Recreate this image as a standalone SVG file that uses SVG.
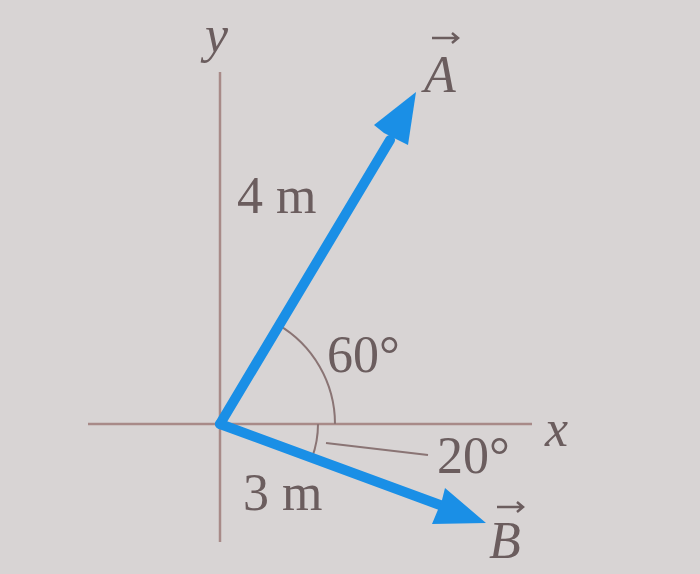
<svg xmlns="http://www.w3.org/2000/svg" width="700" height="574" viewBox="0 0 700 574">
<style>
.t{font-family:"Liberation Serif","DejaVu Serif",serif;fill:#6b5d5e;font-size:52px}
.i{font-style:italic}
.ax{stroke:#a88a88;stroke-width:2.5;fill:none}
.thin{stroke:#8a7474;stroke-width:2;fill:none}
.vec{stroke:#1a8fe6;stroke-width:10;fill:none;stroke-linecap:round;stroke-linejoin:round}
.head{fill:#1a8fe6}
.ar{stroke:#6b5d5e;stroke-width:2.5;fill:none}
</style>
<rect width="700" height="574" fill="#d8d4d4"/>
<g id="axes">
<line class="ax" x1="220" y1="72" x2="220" y2="542"/>
<line class="ax" x1="88" y1="424" x2="532" y2="424"/>
</g>
<g id="angles">
<path class="thin" d="M 335 424 A 115 115 0 0 0 277.5 324.4"/>
<path class="thin" d="M 318 424 A 98 98 0 0 1 312.1 457.5"/>
<line class="thin" x1="326" y1="443" x2="428" y2="455"/>
</g>
<g id="connectors">
<g id="vecA">
<path class="vec" d="M 220 424 L 390 140"/>
<polygon class="head" points="416,92 374,125 384,133 408,145"/>
</g>
<g id="vecB">
<path class="vec" d="M 220 424 L 440 505"/>
<polygon class="head" points="486,523 445,488 442,500 432,524"/>
</g>
</g>
<g id="labels">
<text class="t i" x="205" y="52" font-size="42">y</text>
<text class="t i" x="424" y="92" font-size="46">A</text>
<path class="ar" d="M 432 38 L 457 38 M 452 33 L 458 38 L 452 43"/>
<text class="t" x="237" y="213">4 m</text>
<text class="t" x="327" y="372">60°</text>
<text class="t" x="437" y="473">20°</text>
<text class="t i" x="545" y="446" font-size="46">x</text>
<text class="t" x="243" y="510">3 m</text>
<text class="t i" x="489" y="558" font-size="46">B</text>
<path class="ar" d="M 497 507 L 522 507 M 517 502 L 523 507 L 517 512"/>
</g>
</svg>
